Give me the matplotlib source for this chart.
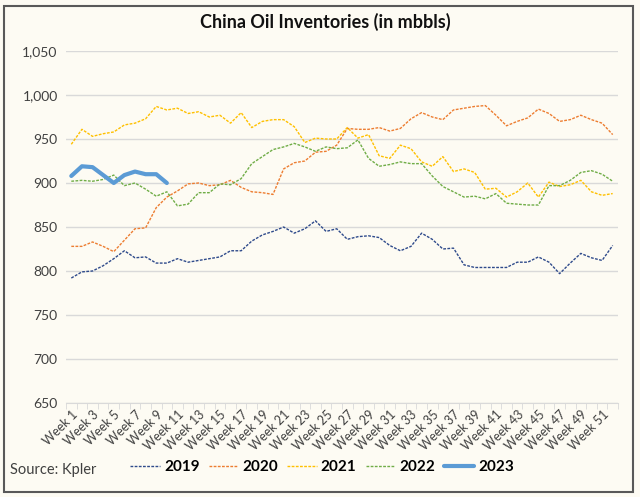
import matplotlib
matplotlib.use("Agg")
import matplotlib.pyplot as plt
from matplotlib.ticker import FuncFormatter, FixedLocator
from matplotlib.patches import Rectangle

plt.rcParams['font.family'] = ['Lato', 'DejaVu Sans']

weeks = list(range(1, 53))
week_labels = [f"Week {w}" for w in weeks]

y2019 = [792, 799, 800, 806, 814, 823, 815, 816, 809, 809, 814, 810, 812, 814, 816, 823, 823, 834,
         841, 845, 850, 843, 848, 857, 845, 848, 836, 839, 840, 838, 829, 823, 828, 843, 836, 825,
         826, 807, 804, 804, 804, 804, 810, 810, 816, 810, 797, 809, 820, 815, 812, 829]
y2020 = [828, 828, 833, 828, 822, 835, 848, 849, 872, 884, 891, 899, 900, 897, 898, 903, 895, 890,
         889, 887, 916, 923, 925, 935, 936, 943, 962, 961, 961, 963, 959, 962, 973, 980, 975, 972,
         983, 985, 987, 988, 977, 965, 970, 974, 984, 979, 970, 972, 977, 972, 968, 955]
y2021 = [944, 961, 953, 956, 958, 966, 968, 973, 987, 983, 985, 979, 981, 975, 977, 968, 980, 963,
         970, 972, 972, 964, 946, 951, 950, 950, 963, 951, 955, 931, 928, 943, 939, 924, 919, 930,
         913, 916, 912, 893, 894, 884, 890, 900, 884, 901, 896, 898, 903, 890, 886, 888]
y2022 = [902, 903, 902, 904, 909, 897, 900, 893, 885, 890, 874, 876, 889, 889, 899, 898, 905, 922,
         930, 938, 941, 945, 941, 936, 941, 939, 940, 949, 928, 919, 921, 924, 922, 922, 908, 896,
         890, 884, 885, 882, 888, 877, 876, 875, 875, 897, 897, 903, 912, 914, 910, 902]
y2023 = [908, 919, 918, 909, 900, 909, 913, 910, 910, 900]

series = [
    ("2019", y2019, "#2E4A8B", 1.0, (0, (2.0, 1.0))),
    ("2020", y2020, "#ED7D31", 1.0, (0, (2.0, 1.0))),
    ("2021", y2021, "#FFC000", 1.0, (0, (2.0, 1.0))),
    ("2022", y2022, "#70AD47", 1.0, (0, (2.0, 1.0))),
    ("2023", y2023, "#5B9BD5", 3.0, "-"),
]

bg = "#FDFBF3"
fig = plt.figure(figsize=(6.4, 4.97), dpi=100, facecolor=bg)
ax = fig.add_axes([66/640, 1-403/497, (618-66)/640, (403-51)/497])
ax.set_facecolor(bg)

for name, vals, col, lw, ls in series:
    ax.plot(weeks[:len(vals)], vals, color=col, lw=lw, ls=ls, label=name,
            solid_capstyle='round', solid_joinstyle='round')

ax.set_xlim(0.5, 52.5)
ax.set_ylim(650, 1050)
ax.set_yticks(range(650, 1051, 50))
ax.yaxis.set_major_formatter(FuncFormatter(lambda v, p: f"{int(v):,}"))
ax.grid(axis='y', color='#D9D9D9', lw=1)
ax.set_axisbelow(True)
for s in ['top', 'right', 'left']:
    ax.spines[s].set_visible(False)
ax.spines['bottom'].set_color('#D9D9D9')
ax.tick_params(axis='y', length=0, labelsize=10, colors='#404040', pad=6)

ax.xaxis.set_major_locator(FixedLocator([w for w in weeks if w % 2 == 1]))
ax.set_xticklabels([week_labels[i] for i in range(52) if (i + 1) % 2 == 1],
                   rotation=45, ha='right', rotation_mode='anchor', fontsize=9, color='#404040')
ax.tick_params(axis='x', length=0, pad=4)
ax.xaxis.set_minor_locator(FixedLocator([w + 0.5 for w in range(0, 53)]))
ax.tick_params(axis='x', which='minor', length=4, color='#D9D9D9')

fig.text(325/640, 1-22/497, "China Oil Inventories (in mbbls)", ha='center', va='center',
         fontsize=13, fontweight='bold', color='#111111')
fig.text(10/640, 1-470/497, "Source: Kpler", ha='left', va='center', fontsize=10.5, color='#404040')

leg = fig.legend(loc='center', bbox_to_anchor=(322/640, 1-467/497), ncol=5, frameon=False,
                 handlelength=1.95, columnspacing=0.6, handletextpad=0.25,
                 prop={'weight': 'bold', 'size': 11})

fig.patches.append(Rectangle((4/640, 5/497), 629/640, 486/497, transform=fig.transFigure,
                             fill=False, edgecolor='#595959', lw=1.5))

fig.savefig("out.png", dpi=100, facecolor=bg)
